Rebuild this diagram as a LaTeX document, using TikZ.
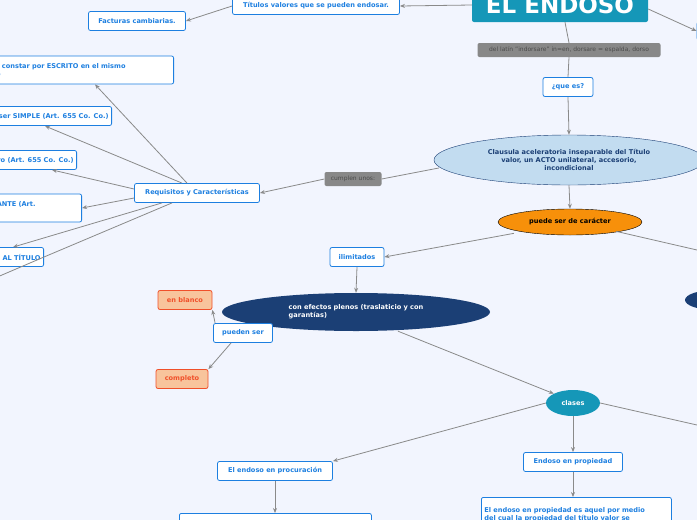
\documentclass[tikz,border=0pt]{standalone}
\usepackage{fontspec}
\setmainfont{DejaVu Sans}
\usetikzlibrary{shapes.geometric,arrows.meta}
\definecolor{bg}{HTML}{F2F5FE}
\definecolor{bl}{HTML}{1D7FE0}
\definecolor{teal}{HTML}{1597B8}
\definecolor{navy}{HTML}{1B3F75}
\definecolor{lightbl}{HTML}{C2DCF0}
\definecolor{ln}{HTML}{8A8A8A}
\definecolor{gr}{HTML}{888888}
\definecolor{org}{HTML}{F7900A}
\definecolor{peach}{HTML}{F8C49C}
\definecolor{red}{HTML}{F0502A}
\tikzset{
 fnt/.style={font=\fontsize{6.6}{8}\selectfont\bfseries},
 box/.style={draw=bl,fill=white,rounded corners=2pt,line width=0.8pt,text=bl,fnt,inner sep=3pt,minimum height=19pt},
 tbox/.style={box,align=left,text width=#1},
 glab/.style={fill=gr,rounded corners=2pt,text=black!70,font=\fontsize{6}{7}\selectfont,minimum height=14pt,inner sep=2pt},
 obox/.style={draw=red,fill=peach,rounded corners=2pt,line width=0.8pt,text=red,fnt,minimum height=19pt},
 arr/.style={draw=ln,line width=0.8pt,-{Stealth[length=5pt,width=4pt]}},
 ln/.style={draw=ln,line width=0.8pt},
}
\begin{document}
\begin{tikzpicture}[x=1pt,y=-1pt]
\useasboundingbox (0,0) rectangle (697,520);
\fill[bg] (0,0) rectangle (697,520);
\clip (0,0) rectangle (697,520);
% nodes
\node[fill=teal,rounded corners=2pt,text=white,font=\fontsize{23}{25}\selectfont\bfseries,minimum width=176pt,minimum height=34pt] (t) at (560,5) {EL ENDOSO};
\node[box,minimum height=17pt,minimum width=167pt] (tv) at (316,6) {Títulos valores que se pueden endosar.};
\node[box,minimum width=97pt] (fc) at (137,21) {Facturas cambiarias.};
\node[box,minimum width=30pt,minimum height=18pt] (rb) at (712,31) {};
\node[glab,minimum width=183pt] (lat) at (569,50) {del latín "indorsare" in=en, dorsare = espalda, dorso};
\node[box,minimum width=50pt] (q) at (568,87) {¿que es?};
\node[ellipse,draw=navy,fill=lightbl,text=navy,fnt,align=center,minimum width=270pt,minimum height=50pt,inner sep=0pt] (cl) at (569,160) {Clausula aceleratoria inseparable del Título\\valor, un ACTO unilateral, accesorio,\\incondicional};
\node[glab,minimum width=57pt] (cu) at (353,179) {cumplen unos:};
\node[box,minimum width=125pt] (rq) at (197,193) {Requisitos y Características};
\node[tbox=190pt,anchor=east,minimum height=28pt] (r1) at (174,70) {Debe constar por ESCRITO en el mismo\\título};
\node[box,anchor=east] (r2) at (112,116) {Debe ser SIMPLE (Art. 655 Co. Co.)};
\node[box,anchor=east] (r3) at (77,160) {Puro (Art. 655 Co. Co.)};
\node[tbox=150pt,anchor=east,minimum height=28pt] (r4) at (82,208) {FIRMA DEL ENDOSANTE (Art.\\654 Co. Co.)};
\node[box,anchor=east] (r5) at (44,257) {ADHERIDO AL TÍTULO};
\coordinate (r6) at (-5,278);
\node[ellipse,draw=black,fill=org,fnt,minimum width=144pt,minimum height=26pt,inner sep=0pt] (pc) at (570,222) {puede ser de carácter};
\coordinate (pr) at (697,250);
\node[box,minimum width=54pt] (il) at (357,257) {ilimitados};
\node[ellipse,fill=navy,text=white,fnt,align=left,minimum width=268pt,minimum height=38pt,inner sep=0pt] (ef) at (356,312) {con efectos plenos (traslaticio y con\\garantías)\hspace{95pt}};
\node[ellipse,fill=navy,minimum width=60pt,minimum height=20pt] at (715,300) {};
\node[obox,minimum width=54pt] (eb) at (185,300) {en blanco};
\node[box,minimum width=59pt] (ps) at (243,333) {pueden ser};
\node[obox,minimum width=52pt] (co) at (182,379) {completo};
\node[ellipse,fill=teal,text=white,fnt,minimum width=54pt,minimum height=26pt,inner sep=0pt] (cs) at (573,403) {clases};
\coordinate (cr) at (697,425);
\node[box,minimum width=115pt] (ep) at (275,471) {El endoso en procuración};
\node[box,minimum width=99pt] (eo) at (573,462) {Endoso en propiedad};
\node[tbox=184pt,anchor=north west,minimum height=34pt] (eot) at (481,497) {El endoso en propiedad es aquel por medio\\del cual la propiedad del título valor se\\};
\node[box,anchor=north west,minimum width=192pt,minimum height=18pt] (epb) at (179,513) {};
% edges
\draw[arr] (t.west) -- (tv.east);
\draw[arr] (tv.west) -- (fc.east);
\draw[arr] (t.east) ++(0,4) -- (rb.west);
\draw[ln] (t.south) ++(5,0) -- (lat.north);
\draw[ln] (lat.south) -- (q.north);
\draw[arr] (q.south) -- (cl.north);
\draw[ln] (cl.west) ++(5,8) -- (cu.east);
\draw[arr] (cu.west) -- (rq.east);
\draw[arr] (rq.north) ++(-10,0) -- (r1.south -| 95,0);
\draw[arr] (rq.north) ++(-15,0) -- (45,126);
\draw[arr] (rq.west) ++(0,-4) -- (r3.south -| 52,0);
\draw[arr] (rq.west) ++(0,5) -- (r4.east);
\draw[arr] (rq.south) ++(-35,0) -- (r5.north -| 13,0);
\draw[ln] (rq.south) ++(-25,0) -- (r5.east) -- (r6);
\draw[arr] (cl.south) -- (pc.north);
\draw[arr] (pc.south west) ++(-5,2) -- (il.east);
\draw[ln] (pc.south east) ++(-5,0) -- (pr);
\draw[arr] (il.south) -- (ef.north);
\draw[arr] (ef.south) ++(42,0) -- (cs.north west);
\draw[arr] (ps.north west) ++(2,0) -- (eb.south east);
\draw[arr] (ps.south west) ++(18,0) -- (co.north east);
\draw[arr] (cs.west) -- (ep.north east);
\draw[arr] (cs.south) -- (eo.north);
\draw[ln] (cs.east) -- (cr);
\draw[arr] (eo.south) -- (eot.north -| eo.south);
\draw[arr] (ep.south) -- (epb.north -| ep.south);
\end{tikzpicture}
\end{document}
